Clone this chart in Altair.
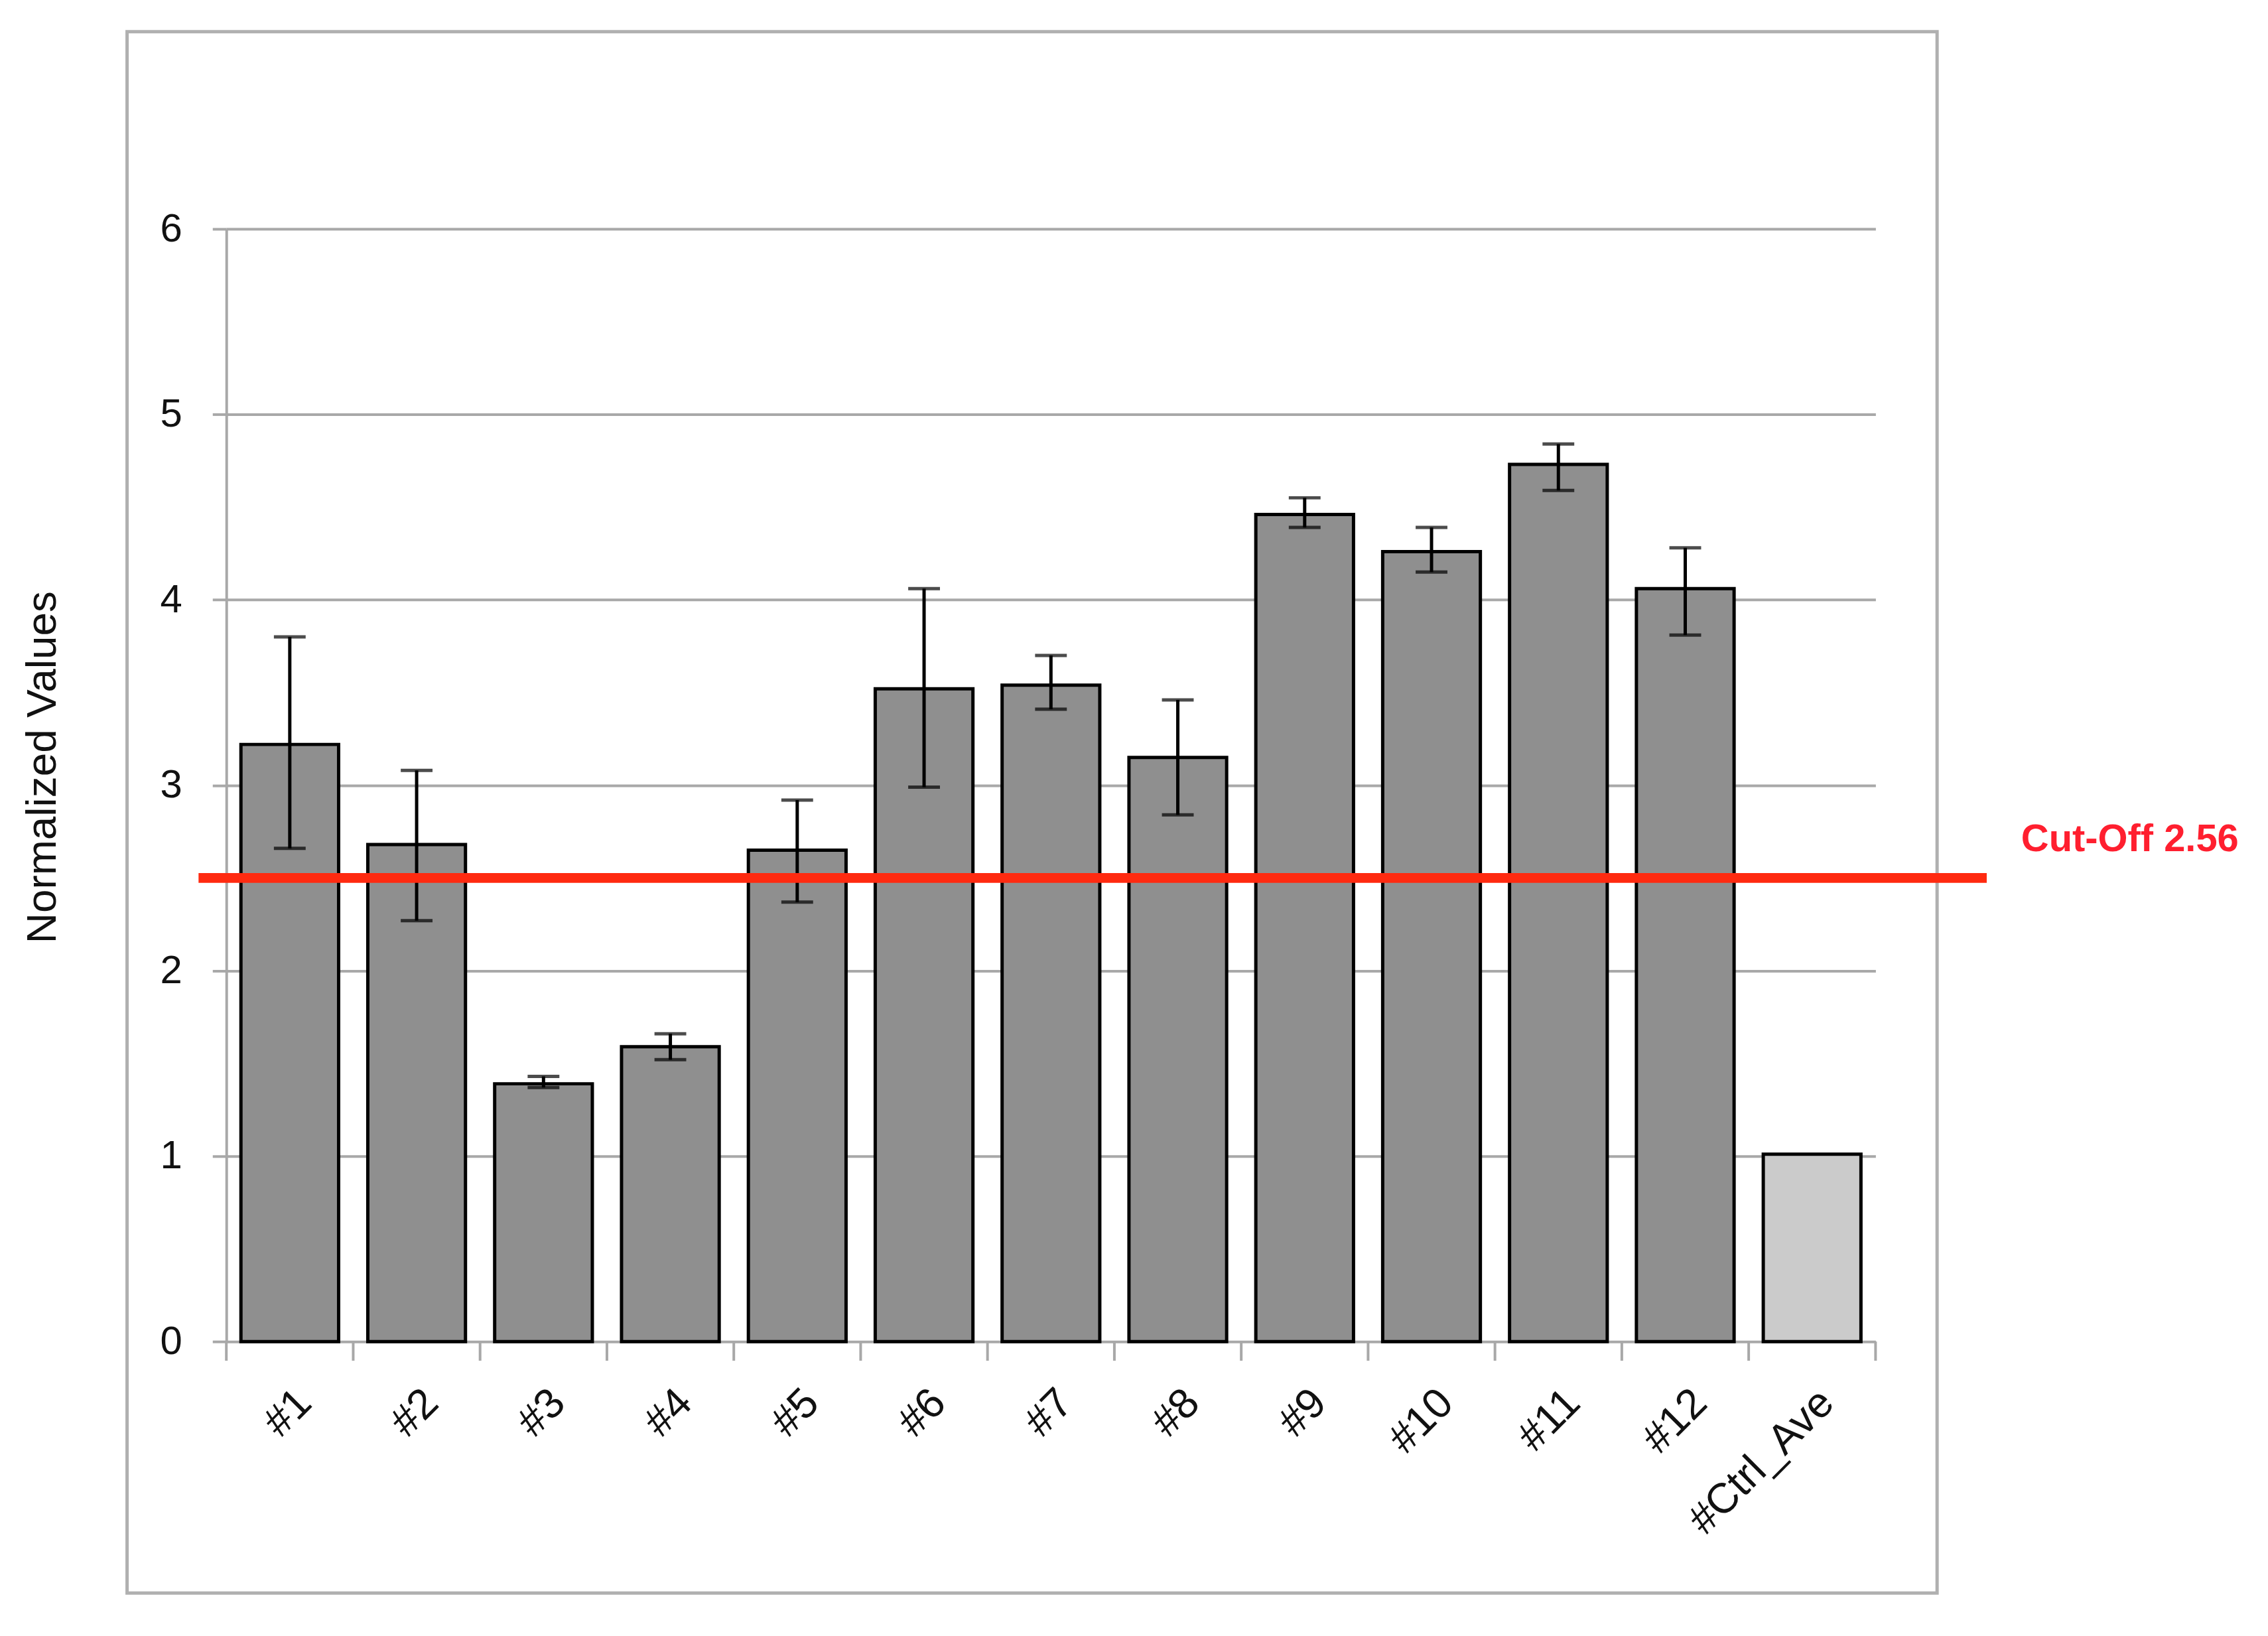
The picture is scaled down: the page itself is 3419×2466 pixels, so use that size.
import altair as alt
import pandas as pd

# ---- data ----
categories = ["#1", "#2", "#3", "#4", "#5", "#6", "#7", "#8", "#9", "#10", "#11", "#12", "#Ctrl_Ave"]
values = [3.22, 2.68, 1.39, 1.59, 2.65, 3.52, 3.54, 3.15, 4.46, 4.26, 4.73, 4.06, 1.01]
groups = ["sample"] * 12 + ["control"]
err_categories = categories[:12]
err_low = [2.66, 2.27, 1.37, 1.52, 2.37, 2.99, 3.41, 2.84, 4.39, 4.15, 4.59, 3.81]
err_high = [3.80, 3.08, 1.43, 1.66, 2.92, 4.06, 3.70, 3.46, 4.55, 4.39, 4.84, 4.28]
y_ticks = [0, 1, 2, 3, 4, 5, 6]
cutoff_value = 2.5
cutoff_label = "Cut-Off 2.56"
y_title = "Normalized Values"

bars_df = pd.DataFrame({"name": categories, "value": values, "group": groups})
err_df = pd.DataFrame({"name": err_categories, "lo": err_low, "hi": err_high})
one = pd.DataFrame({"a": [0]})
last_df = pd.DataFrame({"name": [categories[-1]]})

W, H = 2492, 1681
GRID = "#a8a8a8"
FONT = "Liberation Sans"

x_enc = alt.X(
    "name:N",
    sort=categories,
    scale=alt.Scale(paddingInner=0, paddingOuter=0),
    axis=alt.Axis(
        title=None,
        labelAngle=-45,
        labelAlign="right",
        labelBaseline="top",
        labelFontSize=64,
        labelFont=FONT,
        labelColor="#111111",
        labelLimit=0,
        ticks=False,
        tickSize=0,
        domain=False,
        labelPadding=60,
    ),
)

y_scale = alt.Scale(domain=[0, 6], nice=False)
y_enc = alt.Y(
    "value:Q",
    scale=y_scale,
    axis=alt.Axis(
        values=y_ticks,
        format="d",
        grid=True,
        gridColor=GRID,
        gridWidth=4,
        tickColor=GRID,
        tickWidth=4,
        tickSize=21,
        domainColor=GRID,
        domainWidth=4,
        labelFontSize=60,
        labelFont=FONT,
        labelColor="#111111",
        labelPadding=46,
        title=y_title,
        titleFont=FONT,
        titleFontSize=64,
        titleFontWeight="normal",
        titleColor="#111111",
        titleAngle=-90,
        titleX=-258,
        titleY=813,
        titleAlign="center",
        titleBaseline="alphabetic",
    ),
)

frame = alt.Chart(one).mark_rect(fill=None, stroke="#b0b0b0", strokeWidth=5).encode(
    x=alt.value(-150), x2=alt.value(2585), y=alt.value(-298), y2=alt.value(2061)
)

bars = alt.Chart(bars_df).mark_bar(
    width=alt.RelativeBandSize(0.77), stroke="black", strokeWidth=5
).encode(
    x=x_enc,
    y=y_enc,
    color=alt.Color(
        "group:N",
        scale=alt.Scale(domain=["sample", "control"], range=["#8f8f8f", "#cbcbcb"]),
        legend=None,
    ),
)

band_ticks = alt.Chart(bars_df).mark_rule(color=GRID, strokeWidth=4).encode(
    x=alt.X("name:N", sort=categories, bandPosition=0),
    y=alt.value(H),
    y2=alt.value(H + 29),
)
end_tick = alt.Chart(last_df).mark_rule(color=GRID, strokeWidth=4).encode(
    x=alt.X("name:N", sort=categories, bandPosition=1),
    y=alt.value(H),
    y2=alt.value(H + 29),
)

err_rule = alt.Chart(err_df).mark_rule(color="black", strokeWidth=5).encode(
    x=alt.X("name:N", sort=categories),
    y=alt.Y("lo:Q", scale=y_scale),
    y2="hi:Q",
)
cap_lo = alt.Chart(err_df).mark_tick(color="black", thickness=5, size=48).encode(
    x=alt.X("name:N", sort=categories), y=alt.Y("lo:Q", scale=y_scale)
)
cap_hi = alt.Chart(err_df).mark_tick(color="black", thickness=5, size=48).encode(
    x=alt.X("name:N", sort=categories), y=alt.Y("hi:Q", scale=y_scale)
)

cut_line = alt.Chart(one).mark_rule(color="#ff2a10", strokeWidth=15).encode(
    x=alt.value(-42), x2=alt.value(2660), y=alt.datum(cutoff_value)
)
cut_text = alt.Chart(one).mark_text(
    align="left", baseline="alphabetic", dy=-40, fontSize=58, fontWeight="bold",
    font=FONT, color="#ff1f2f",
).encode(x=alt.value(2712), y=alt.datum(cutoff_value), text=alt.value(cutoff_label))

chart = alt.layer(
    frame, bars, band_ticks, end_tick, err_rule, cap_lo, cap_hi, cut_line, cut_text
).properties(
    width=W,
    height=H,
    autosize=alt.AutoSizeParams(type="none"),
    padding={"left": 334, "top": 335, "right": 585, "bottom": 434},
    background="white",
).configure_view(stroke=None)

chart.save("out.html", embed_options={"renderer": "svg", "actions": False})
